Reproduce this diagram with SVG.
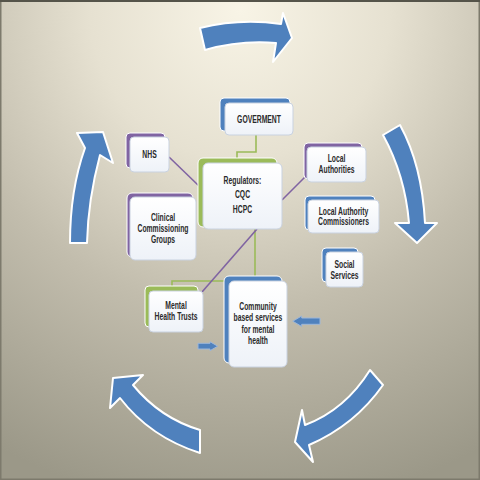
<svg xmlns="http://www.w3.org/2000/svg" width="480" height="480" viewBox="0 0 480 480">
<defs>
<radialGradient id="bg" gradientUnits="userSpaceOnUse" cx="240" cy="10" r="500">
<stop offset="0" stop-color="#f8f4e6"/>
<stop offset="0.3" stop-color="#e6e1d1"/>
<stop offset="0.6" stop-color="#c2bdad"/>
<stop offset="1" stop-color="#9b9888"/>
</radialGradient>
<linearGradient id="card" x1="0" y1="0" x2="0" y2="1">
<stop offset="0" stop-color="#ffffff"/>
<stop offset="1" stop-color="#eef2f8"/>
</linearGradient>
<style>
.blue{fill:#4f81bd;stroke:#ffffff;stroke-width:1}
.purple{fill:#8064a2;stroke:#ffffff;stroke-width:1}
.green{fill:#9bbb59;stroke:#ffffff;stroke-width:1}
.front{fill:url(#card);stroke:#c9d2e0;stroke-width:1}
.big{fill:#4f81bd;stroke:#ffffff;stroke-width:2;stroke-linejoin:round}
.small{fill:#4f81bd;stroke:#9db7d9;stroke-width:1}
.g{fill:none;stroke:#9bbb59;stroke-width:1.6}
.p{fill:none;stroke:#8064a2;stroke-width:1.6}
text{font-family:"Liberation Sans",Arial,sans-serif;font-size:10px;font-weight:bold;fill:#2a2a2a;text-anchor:middle}
</style>
</defs>
<rect x="0" y="0" width="480" height="480" fill="url(#bg)"/>
<rect x="0.75" y="0.75" width="478.5" height="478.5" fill="none" stroke="#7d7a6c" stroke-width="1.5"/>
<rect x="0" y="0" width="480" height="2" fill="#55544a"/>

<g id="cycle">
<path class="big" d="M200,28 Q240,18 281,24 L283,13 L292,38 L273,62 L276,43 Q240,40 205,50 Z"/>
<path class="big" d="M383,135 L400,125 Q422,165 425,223 L437,223 L417,243 L395,223 L409,223 Q405,175 383,135 Z"/>
<path class="big" d="M370,370 L383,385 Q355,425 309,445 L313,462 L295,442 L302,410 L305,425 Q345,410 370,370 Z"/>
<path class="big" d="M200,430 L200,453 Q150,437 120,398 L110,408 L113,378 L143,375 L133,385 Q160,418 200,430 Z"/>
<path class="big" d="M70,243 Q70,190 85,148 L77,133 L103,132 L113,163 L100,155 Q88,200 87,243 Z"/>
</g>

<g id="connectors">
<path class="g" d="M256,135 V152 H237 V158"/>
<path class="g" d="M255,229 V281 H172 V287"/>
<path class="p" d="M169,157 L199,186"/>
<path class="p" d="M305,177 L282,200"/>
<path class="p" d="M257,229 L202,292"/>
<path class="small" d="M198,343.3 H210 V341.7 L217.7,346.2 L210,350.7 V349 H198 Z"/>
<path class="small" d="M320,318 H301.7 V316 L292.7,321.2 L301.7,326.5 V324.3 H320 Z"/>
</g>

<g id="goverment">
<rect class="blue" x="220" y="98" width="70" height="33" rx="4"/>
<rect class="front" x="225" y="103" width="68" height="32" rx="4"/>
<text transform="translate(259,123) scale(0.68 1)">GOVERMENT</text>
</g>

<g id="regulators">
<rect class="green" x="198" y="158" width="79" height="69" rx="5"/>
<rect class="front" x="203" y="163" width="79" height="66" rx="5"/>
<text transform="translate(242.5,183.5) scale(0.68 1)"><tspan x="0">Regulators:</tspan><tspan x="0" dy="15">CQC</tspan><tspan x="0" dy="15">HCPC</tspan></text>
</g>

<g id="nhs">
<rect class="purple" x="126" y="133" width="39" height="35" rx="4"/>
<rect class="front" x="130" y="137" width="39" height="35" rx="4"/>
<text transform="translate(149.5,158) scale(0.68 1)">NHS</text>
</g>

<g id="ccg">
<rect class="purple" x="127" y="193" width="66" height="64" rx="5"/>
<rect class="front" x="130" y="197" width="66" height="63" rx="5"/>
<text transform="translate(163,220.5) scale(0.68 1)"><tspan x="0">Clinical</tspan><tspan x="0" dy="11.5">Commissioning</tspan><tspan x="0" dy="11.5">Groups</tspan></text>
</g>

<g id="local-authorities">
<rect class="purple" x="304" y="143" width="58" height="36" rx="4"/>
<rect class="front" x="307" y="147" width="59" height="35" rx="4"/>
<text transform="translate(336.5,161.5) scale(0.68 1)"><tspan x="0">Local</tspan><tspan x="0" dy="11.5">Authorities</tspan></text>
</g>

<g id="la-commissioners">
<rect class="blue" x="305" y="196" width="70" height="34" rx="4"/>
<rect class="front" x="308" y="200" width="71" height="33" rx="4"/>
<text transform="translate(343.5,214.5) scale(0.68 1)"><tspan x="0">Local Authority</tspan><tspan x="0" dy="10.8">Commissioners</tspan></text>
</g>

<g id="social-services">
<rect class="blue" x="322" y="248" width="36" height="34" rx="4"/>
<rect class="front" x="326" y="252" width="37" height="35" rx="4"/>
<text transform="translate(344.5,268) scale(0.68 1)"><tspan x="0">Social</tspan><tspan x="0" dy="11.3">Services</tspan></text>
</g>

<g id="mental-health-trusts">
<rect class="green" x="145" y="286" width="53" height="41" rx="4"/>
<rect class="front" x="149" y="291" width="54" height="41" rx="4"/>
<text transform="translate(176,309) scale(0.68 1)"><tspan x="0">Mental</tspan><tspan x="0" dy="11.5">Health Trusts</tspan></text>
</g>

<g id="community">
<rect class="blue" x="224" y="276" width="58" height="87" rx="5"/>
<rect class="front" x="229" y="281" width="58" height="86" rx="5"/>
<text transform="translate(258,310) scale(0.68 1)"><tspan x="0">Community</tspan><tspan x="0" dy="11.3">based services</tspan><tspan x="0" dy="11.3">for mental</tspan><tspan x="0" dy="11.3">health</tspan></text>
</g>
</svg>
